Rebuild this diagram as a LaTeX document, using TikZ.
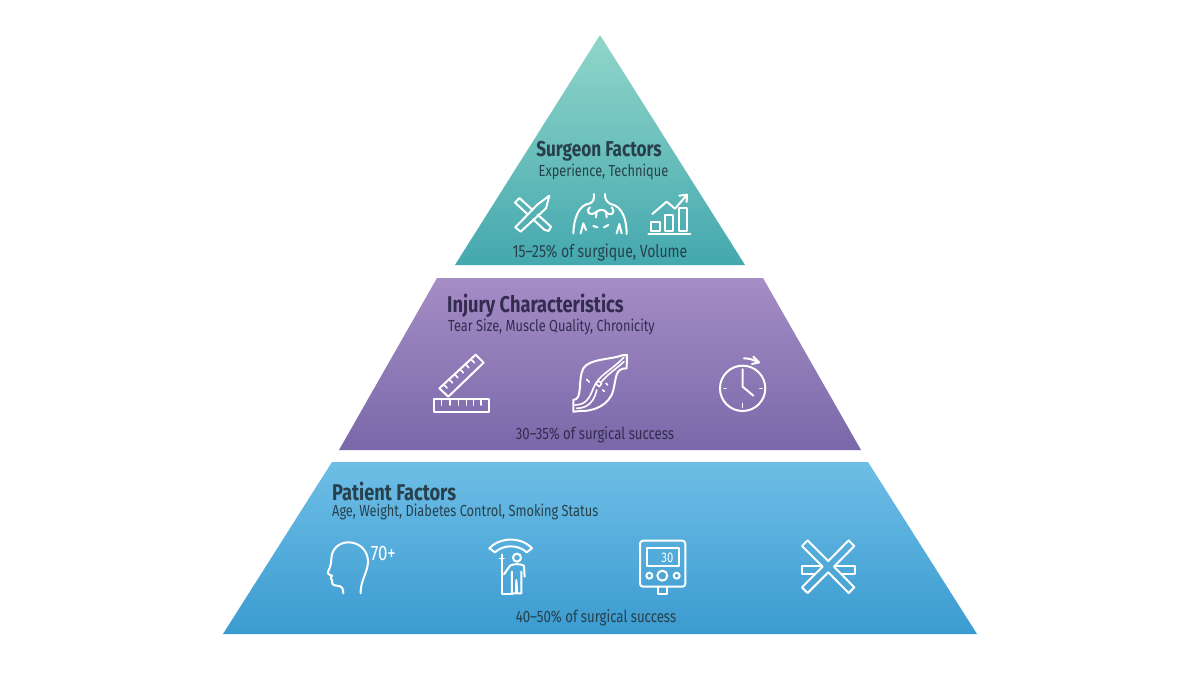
\documentclass[tikz,border=0pt]{standalone}
\usepackage{fontspec}
\setmainfont[FakeStretch=0.8]{Fira Sans}
\usetikzlibrary{arrows.meta,calc}
\definecolor{inkdark}{HTML}{27404C}
\definecolor{inkplum}{HTML}{332C50}
\definecolor{tealtop}{RGB}{145,214,202}
\definecolor{tealbot}{RGB}{68,168,174}
\definecolor{plumtop}{RGB}{165,141,197}
\definecolor{plumbot}{RGB}{121,104,169}
\definecolor{bluetop}{RGB}{110,190,230}
\definecolor{bluebot}{RGB}{59,155,208}
\tikzset{
  title/.style={font=\fontsize{22.8}{24}\selectfont\bfseries,inner sep=0pt},
  sub/.style={font=\fontsize{16}{18}\selectfont,inner sep=0pt},
  pct/.style={font=\fontsize{16.5}{18}\selectfont,inner sep=0pt},
  icon/.style={draw=white,line width=2pt,line join=round,line cap=round,fill=none},
  thin icon/.style={icon,line width=1.6pt},
  zoomA/.style={shift={(450pt,-130pt)},x=0.3333pt,y=-0.3333pt},
  zoomB/.style={shift={(420pt,-340pt)},x=0.3333pt,y=-0.3333pt},
  zoomC/.style={shift={(310pt,-525pt)},x=0.3333pt,y=-0.3333pt},
  zoomD/.style={shift={(620pt,-525pt)},x=0.3333pt,y=-0.3333pt},
}
\begin{document}
\begin{tikzpicture}[x=1pt,y=-1pt]
\useasboundingbox (0,0) rectangle (1200,675);
\fill[white] (0,0) rectangle (1200,675);
% tiers
\shade[top color=tealtop,bottom color=tealbot]
  (600,35) -- (745,265) -- (455,265) -- cycle;
\shade[top color=plumtop,bottom color=plumbot]
  (437,278) -- (763,278) -- (861,450) -- (339,450) -- cycle;
\shade[top color=bluetop,bottom color=bluebot]
  (332,462) -- (868,462) -- (977,634) -- (223,634) -- cycle;
% top text
\node[title,text=inkdark,font=\fontsize{21.5}{24}\selectfont\bfseries] (t1) at (599,151) {Surgeon Factors};
\node[sub,text=inkdark] (s1) at (603.5,172) {Experience, Technique};
\node[pct,text=inkdark,font=\fontsize{17.5}{20}\selectfont] (p1) at (600,253) {15--25\% of surgique, Volume};
% middle text
\node[title,text=inkplum,anchor=west] (t2) at (447,306) {Injury Characteristics};
\node[sub,text=inkplum,anchor=west] (s2) at (448,327) {Tear Size, Muscle Quality, Chronicity};
\node[pct,text=inkplum] (p2) at (595,435) {30--35\% of surgical success};
% lower text
\node[title,text=inkdark,anchor=west] (t3) at (332,491) {Patient Factors};
\node[sub,text=inkdark,anchor=west] (s3) at (332,512) {Age, Weight, Diabetes Control, Smoking Status};
\node[pct,text=inkdark] (p3) at (596,618) {40--50\% of surgical success};
% scalpels, shoulders, chart
\begin{scope}[zoomA]
  \draw[icon] (247,239) -- (208,204) -- (195,218) -- (233,253);
  \draw[icon] (263,254) -- (303,290) -- (296,303) -- (284,300) -- (249,268);
  \draw[icon] (196,292) -- (262,224) -- (298,197) -- (288,235) -- (212,305) -- cycle;
  \draw[icon] (370,310) .. controls (372,265) and (385,225) .. (420,220) .. controls (432,215) and (432,205) .. (432,192);
  \draw[icon] (530,312) .. controls (530,265) and (515,228) .. (482,222) .. controls (468,215) and (465,205) .. (465,192);
  \draw[icon] (420,232) .. controls (405,245) and (420,262) .. (440,245) .. controls (450,238) and (460,238) .. (468,245) .. controls (480,262) and (500,250) .. (485,232);
  \draw[icon] (392,310) -- (400,280) -- (408,300);
  \draw[icon] (500,310) -- (508,282) -- (515,310);
  \draw[icon] (430,288) -- (442,292);
  \draw[icon] (462,292) -- (475,285);
  \draw[icon] (440,245) -- (438,262);
  \draw[icon] (468,245) -- (470,262);
  \draw[icon] (595,313) -- (721,313);
  \draw[icon] (603,275) rectangle (630,303);
  \draw[icon] (645,256) rectangle (670,303);
  \draw[icon] (686,235) rectangle (712,303);
  \draw[icon] (607,252) -- (650,215) -- (675,236) -- (708,198);
  \draw[icon] (688,197) -- (711,194) -- (710,216);
\end{scope}
% rulers, muscle, clock
\begin{scope}[zoomB]
  \draw[icon] (42,178) rectangle (206,215);
  \foreach \t in {65,90,115,140,160,183} \draw[thin icon] (\t,178) -- (\t,195);
  \draw[icon] (58,145) -- (167,44) -- (191,68) -- (85,170) -- cycle;
  \foreach \t in {12,27,42,57,72,87}
    \draw[thin icon] (58+\t*1.09,145-\t*1.01) -- ++(10,11);
  \draw[icon] (460,180) .. controls (490,178) and (472,120) .. (490,85) .. controls (510,55) and (570,60) .. (610,45) -- (621,45) -- (620,85)
     .. controls (585,85) and (590,110) .. (580,150) .. controls (570,195) and (520,215) .. (480,213) -- (460,215) -- cycle;
  \draw[thin icon] (465,195) .. controls (500,195) and (510,170) .. (520,145) .. controls (535,105) and (570,95) .. (612,52);
  \draw[thin icon] (470,205) .. controls (510,205) and (525,175) .. (530,150);
  \draw[thin icon] (545,125) .. controls (560,105) and (590,85) .. (612,65);
  \draw[thin icon] (535,122) -- (545,130) -- (538,140) -- (528,132) -- cycle;
  \draw[thin icon] (500,118) -- (508,126);
  \draw[thin icon] (558,130) -- (563,135);
  \draw[thin icon] (548,150) -- (553,154);
  \draw[icon] (968,145) circle (68);
  \draw[icon] (968,88) -- (968,140) -- (1000,167);
  \draw[thin icon] (968,190) -- (968,202);
  \draw[thin icon] (912,145) -- (918,145);
  \draw[thin icon] (1020,145) -- (1026,145);
  \draw[icon] (972,55) .. controls (985,55) and (1000,58) .. (1016,68);
  \draw[icon] (1000,50) -- (1017,67) -- (996,72);
\end{scope}
% head, person
\begin{scope}[zoomC]
  \draw[icon] (100,205) .. controls (100,190) and (95,182) .. (80,182) .. controls (66,182) and (64,172) .. (66,165)
    -- (62,160) -- (66,152) .. controls (58,150) and (52,146) .. (53,142) .. controls (60,128) and (64,118) .. (64,100)
    .. controls (66,70) and (88,52) .. (115,52) .. controls (150,52) and (174,78) .. (174,110) .. controls (174,140) and (150,170) .. (152,205);
  \node[font=\fontsize{21}{23}\selectfont,text=white,inner sep=0pt] (age) at (220,85) {70+};
  \draw[icon] (538,70) .. controls (570,35) and (635,35) .. (666,70) -- (650,82) .. controls (625,58) and (580,58) .. (555,82) -- cycle;
  \draw[icon] (621,98) circle (12);
  \draw[icon] (575,88) -- (575,208) -- (608,208);
  \draw[thin icon] (568,100) -- (582,100);
  \draw[icon] (582,148) -- (600,122) .. controls (610,116) and (632,116) .. (642,122) -- (644,155);
  \draw[icon] (606,140) -- (606,205) -- (618,205) -- (619,165) -- (622,205) -- (634,205) -- (634,140);
\end{scope}
% meter, cross
\begin{scope}[zoomD]
  \draw[icon,rounded corners=3pt] (60,47) rectangle (196,185);
  \draw[icon] (82,70) rectangle (176,122);
  \node[font=\fontsize{14}{16}\selectfont,text=white,inner sep=0pt] (reading) at (142,98) {30};
  \draw[icon] (88,152) circle (9);
  \draw[icon] (127,152) circle (15);
  \draw[icon] (170,152) circle (9);
  \draw[icon] (114,185) -- (114,207) -- (141,207) -- (141,185);
  \draw[icon] (605,122) -- (545,122) -- (545,148) -- (585,148);
  \draw[icon] (645,122) -- (706,122) -- (706,148) -- (665,148);
  \draw[icon] (546,63) -- (563,46) -- (625,108) -- (686,46) -- (703,63) -- (642,125) -- (703,187) -- (686,204) -- (625,142) -- (563,204) -- (546,187) -- (608,125) -- cycle;
\end{scope}
\end{tikzpicture}
\end{document}
